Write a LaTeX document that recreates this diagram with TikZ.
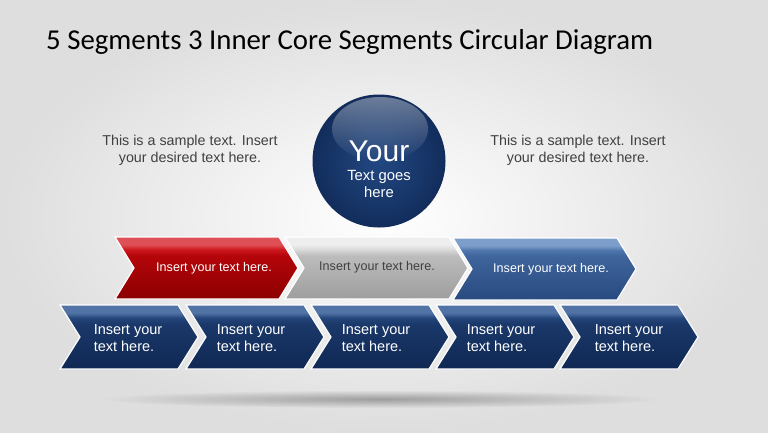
\documentclass[tikz,border=0pt]{standalone}
\usepackage{fontspec}
\setmainfont{Liberation Sans}
\newfontfamily\calib{Carlito}
\usetikzlibrary{fadings}

\definecolor{r0}{RGB}{222,80,85}
\definecolor{r1}{RGB}{205,25,30}
\definecolor{r2}{RGB}{180,5,10}
\definecolor{r3}{RGB}{140,0,0}
\definecolor{g0}{RGB}{238,238,238}
\definecolor{g1}{RGB}{218,218,218}
\definecolor{g2}{RGB}{188,188,188}
\definecolor{g3}{RGB}{158,158,158}
\definecolor{b0}{RGB}{125,158,202}
\definecolor{b1}{RGB}{78,118,172}
\definecolor{b2}{RGB}{62,100,155}
\definecolor{b3}{RGB}{40,74,128}
\definecolor{n0}{RGB}{82,115,165}
\definecolor{n1}{RGB}{36,70,124}
\definecolor{n2}{RGB}{26,56,105}
\definecolor{n3}{RGB}{16,40,84}
\definecolor{txtgray}{RGB}{64,64,64}
\definecolor{coreout}{RGB}{18,45,92}
\definecolor{corein}{RGB}{34,72,130}

\tikzfading[name=softblob, inner color=transparent!0, outer color=transparent!100]
\tikzfading[name=glossfade, top color=transparent!25, bottom color=transparent!100]

\pgfdeclareverticalshading{redsh}{100bp}{color(0bp)=(r3); color(25bp)=(r3); color(60bp)=(r2); color(65bp)=(r1); color(69bp)=(r0); color(75bp)=(r0); color(100bp)=(r0)}
\pgfdeclareverticalshading{graysh}{100bp}{color(0bp)=(g3); color(25bp)=(g3); color(60bp)=(g2); color(65bp)=(g1); color(69bp)=(g0); color(75bp)=(g0); color(100bp)=(g0)}
\pgfdeclareverticalshading{bluesh}{100bp}{color(0bp)=(b3); color(25bp)=(b3); color(60bp)=(b2); color(65bp)=(b1); color(69bp)=(b0); color(75bp)=(b0); color(100bp)=(b0)}
\pgfdeclareverticalshading{navysh}{100bp}{color(0bp)=(n3); color(25bp)=(n3); color(60bp)=(n2); color(65bp)=(n1); color(69bp)=(n0); color(75bp)=(n0); color(100bp)=(n0)}

% #1 style, #2 x, #3 y, #4 width, #5 height, #6 point depth
\newcommand{\chev}[6]{%
  \path[#1] (#2,#3) -- ++(#4-#6,0) -- ++(#6,#5/2) -- ++(-#6,#5/2)
    -- ++(-#4+#6,0) -- ++(#6,-#5/2) -- cycle;}

\tikzset{
  chevbase/.style={draw=white, line width=1.2pt, line join=miter},
  chevred/.style={chevbase, shading=redsh},
  chevgray/.style={chevbase, shading=graysh},
  chevblue/.style={chevbase, shading=bluesh},
  chevnavy/.style={chevbase, shading=navysh},
  toptext/.style={font=\fontsize{12.6}{14}\selectfont, inner sep=0pt},
  bottext/.style={font=\fontsize{14.5}{17}\selectfont, text=white, align=left, inner sep=0pt},
  sidetext/.style={font=\fontsize{14.3}{17}\selectfont, text=txtgray, align=center, inner sep=0pt},
}

\begin{document}
\begin{tikzpicture}[x=1pt,y=-1pt]
\useasboundingbox (0,0) rectangle (768,432);
\shade[inner color=white, outer color=black!13] (0,0) rectangle (768,432);

% shadow under bottom row
\fill[black, opacity=0.3, path fading=softblob] (380,399) ellipse [x radius=280, y radius=9];

% title
\node[anchor=west, inner sep=0pt, font=\calib\fontsize{28.8}{32}\selectfont] (title) at (46,42)
  {5 Segments 3 Inner Core Segments Circular Diagram};

% side texts
\node[sidetext] (lefttext) at (190,150) {This is a sample text. Insert\\your desired text here.};
\node[sidetext] (righttext) at (578,150) {This is a sample text. Insert\\your desired text here.};

% core circle
\shade[inner color=corein, outer color=coreout] (379,161) circle [radius=66];
\begin{scope}
  \clip (379,161) circle [radius=65];
  \fill[white, opacity=0.5, path fading=glossfade] (380,129) ellipse [x radius=48, y radius=32];
\end{scope}
\draw[coreout, line width=1pt] (379,161) circle [radius=66];
\node[circle, minimum size=132pt, inner sep=0pt] (core) at (379,161) {};
\node[text=white, inner sep=0pt, font=\fontsize{30}{32}\selectfont] (your) at (379,151) {Your};
\node[text=white, inner sep=0pt, align=center, font=\fontsize{14.8}{17}\selectfont] (goes) at (379,184) {Text goes\\here};

% top row (inner core)
\chev{chevred}{115}{237}{183}{62}{19}
\chev{chevgray}{285}{237}{183}{62}{19}
\chev{chevblue}{453}{238}{183}{62}{19}
\node[toptext, text=white] (c1) at (214,268) {Insert your text here.};
\node[toptext, text=txtgray] (c2) at (377,267) {Insert your text here.};
\node[toptext, text=white] (c3) at (551,269) {Insert your text here.};

% bottom row (5 segments)
\chev{chevnavy}{60}{305}{138}{64}{20}
\chev{chevnavy}{186}{305}{138}{64}{20}
\chev{chevnavy}{311}{305}{138}{64}{20}
\chev{chevnavy}{436}{305}{138}{64}{20}
\chev{chevnavy}{560}{305}{138}{64}{20}
\node[bottext] (s1) at (128,338.5) {Insert your\\text here.};
\node[bottext] (s2) at (251,338.5) {Insert your\\text here.};
\node[bottext] (s3) at (376,338.5) {Insert your\\text here.};
\node[bottext] (s4) at (501,338.5) {Insert your\\text here.};
\node[bottext] (s5) at (629,338.5) {Insert your\\text here.};
\end{tikzpicture}
\end{document}
